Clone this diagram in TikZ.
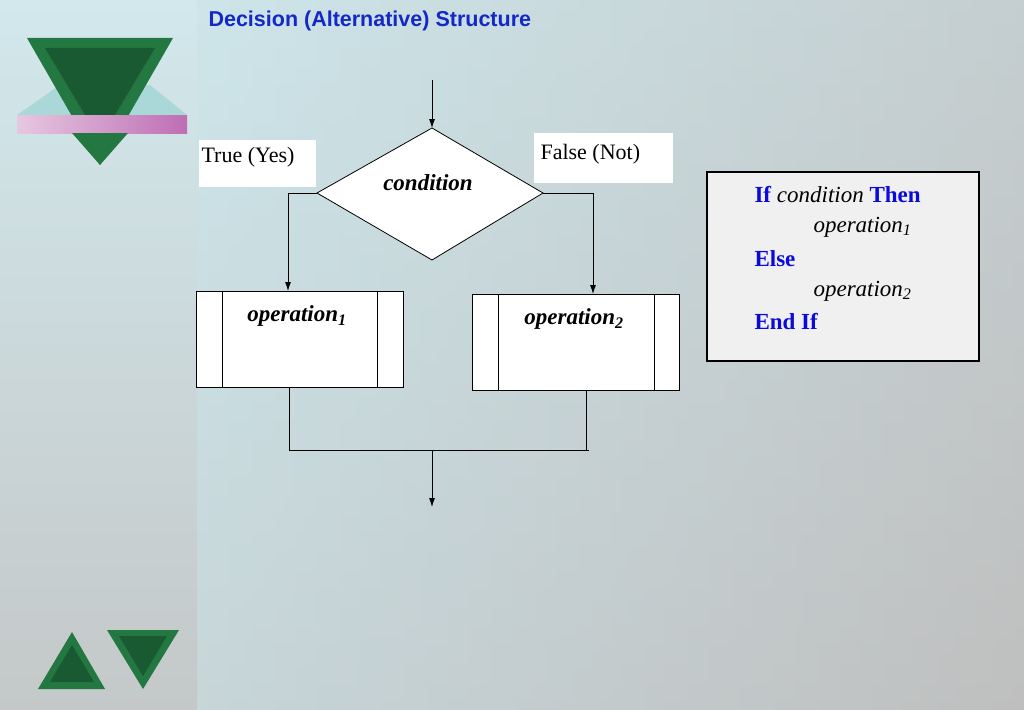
\documentclass[tikz,border=0pt]{standalone}
\usepackage{fontspec}
\setmainfont{Liberation Serif}
\setsansfont{Liberation Sans}
\usetikzlibrary{arrows.meta}
\definecolor{ttl}{RGB}{20,40,200}
\definecolor{kw}{RGB}{10,10,220}
\definecolor{grn}{RGB}{35,120,65}
\definecolor{dgrn}{RGB}{25,90,50}
\definecolor{bgA}{RGB}{205,228,232}
\definecolor{bgB}{RGB}{190,190,190}
\definecolor{bgC}{RGB}{205,230,235}
\definecolor{bgD}{RGB}{192,192,192}
\definecolor{pnA}{RGB}{210,232,236}
\definecolor{pnB}{RGB}{196,200,200}
\definecolor{tq}{RGB}{170,215,215}
\definecolor{pkA}{RGB}{230,200,225}
\definecolor{pkB}{RGB}{190,110,180}
\definecolor{cbox}{RGB}{240,240,240}
\begin{document}
\begin{tikzpicture}[x=1pt,y=-1pt,
 ln/.style={draw=black,line width=0.8pt},
 arr/.style={ln,-{Latex[length=9pt,width=6pt]}},
 lbl/.style={fill=white,inner sep=0pt},
 opbox/.style={draw=black,fill=white,line width=0.8pt}]
\useasboundingbox (0,0) rectangle (1024,709);
\shade[top color=bgA, bottom color=bgB] (197,0) rectangle (1024,709);
\shade[left color=bgC, right color=bgD, opacity=0.6] (197,0) rectangle (1024,709);
\shade[top color=pnA, bottom color=pnB] (0,0) rectangle (197,709);
% decorations
\fill[tq] (17,115) -- (60,85) -- (150,85) -- (187,115) -- cycle;
\fill[grn] (27,38) -- (173,38) -- (100,165) -- cycle;
\fill[dgrn] (45,48) -- (155,48) -- (100,140) -- cycle;
\shade[left color=pkA, right color=pkB] (17,115) rectangle (187,133);
\fill[grn] (72,133) -- (128,133) -- (100,165) -- cycle;
\fill[grn] (38,689) -- (105,689) -- (72,632) -- cycle;
\fill[dgrn] (50,682) -- (94,682) -- (72,645) -- cycle;
\fill[grn] (107,630) -- (179,630) -- (143,689) -- cycle;
\fill[dgrn] (119,636) -- (167,636) -- (143,676) -- cycle;
% title
\node[anchor=west,font=\sffamily\bfseries\fontsize{21.5}{24}\selectfont,text=ttl] (title) at (205,21) {Decision (Alternative) Structure};
% flowchart
\coordinate (in) at (432,80);
\coordinate (dt) at (432,128);
\coordinate (dl) at (317,193);
\coordinate (dr) at (543,193);
\coordinate (db) at (432,260);
\draw[ln,fill=white] (dt) -- (dr) -- (db) -- (dl) -- cycle;
\node[font=\bfseries\itshape\fontsize{23}{26}\selectfont] (cond) at (428,183) {condition};
\draw[arr] (in) -- (dt);
\node[lbl,minimum width=117pt,minimum height=47pt] (tl) at (257.5,163.5) {};
\node[font=\fontsize{22}{24}\selectfont,anchor=west] (tlt) at (198,157) {True (Yes)};
\node[lbl,minimum width=139pt,minimum height=50pt] (fl) at (603.5,158) {};
\node[font=\fontsize{22}{24}\selectfont,anchor=west] (flt) at (537,154) {False (Not)};
\draw[opbox] (196,291) rectangle (403,387);
\draw[ln] (222,291) -- (222,387) (377,291) -- (377,387);
\node[font=\bfseries\itshape\fontsize{23}{26}\selectfont] (op1) at (297,316) {operation\textsubscript{\itshape 1}};
\draw[opbox] (472,294) rectangle (679,390);
\draw[ln] (498,294) -- (498,390) (654,294) -- (654,390);
\node[font=\bfseries\itshape\fontsize{23}{26}\selectfont] (op2) at (574,319) {operation\textsubscript{\itshape 2}};
\coordinate (b1t) at (288,291);
\coordinate (b2t) at (593,294);
\draw[arr] (dl) -- (288,193) -- (b1t);
\draw[arr] (dr) -- (593,193) -- (b2t);
\coordinate (b1b) at (289,387);
\coordinate (b2b) at (586,390);
\coordinate (jn) at (432,450);
\coordinate (out) at (432,507);
\draw[ln] (b1b) -- (289,450) -- (589,450);
\draw[ln] (b2b) -- (586,450);
\draw[arr] (jn) -- (out);
% code box
\draw[draw=black,line width=1.5pt,fill=cbox] (707,172) rectangle (979,361);
\begin{scope}[every node/.style={anchor=west,font=\fontsize{23}{26}\selectfont}]
\node (c1) at (751,195) {\textcolor{kw}{\bfseries If} \textit{condition} \textcolor{kw}{\bfseries Then}};
\node (c2) at (810,227) {\textit{operation\textsubscript{1}}};
\node (c3) at (751,259) {\textcolor{kw}{\bfseries Else}};
\node (c4) at (810,291) {\textit{operation\textsubscript{2}}};
\node (c5) at (751,322) {\textcolor{kw}{\bfseries End If}};
\end{scope}
\end{tikzpicture}
\end{document}
